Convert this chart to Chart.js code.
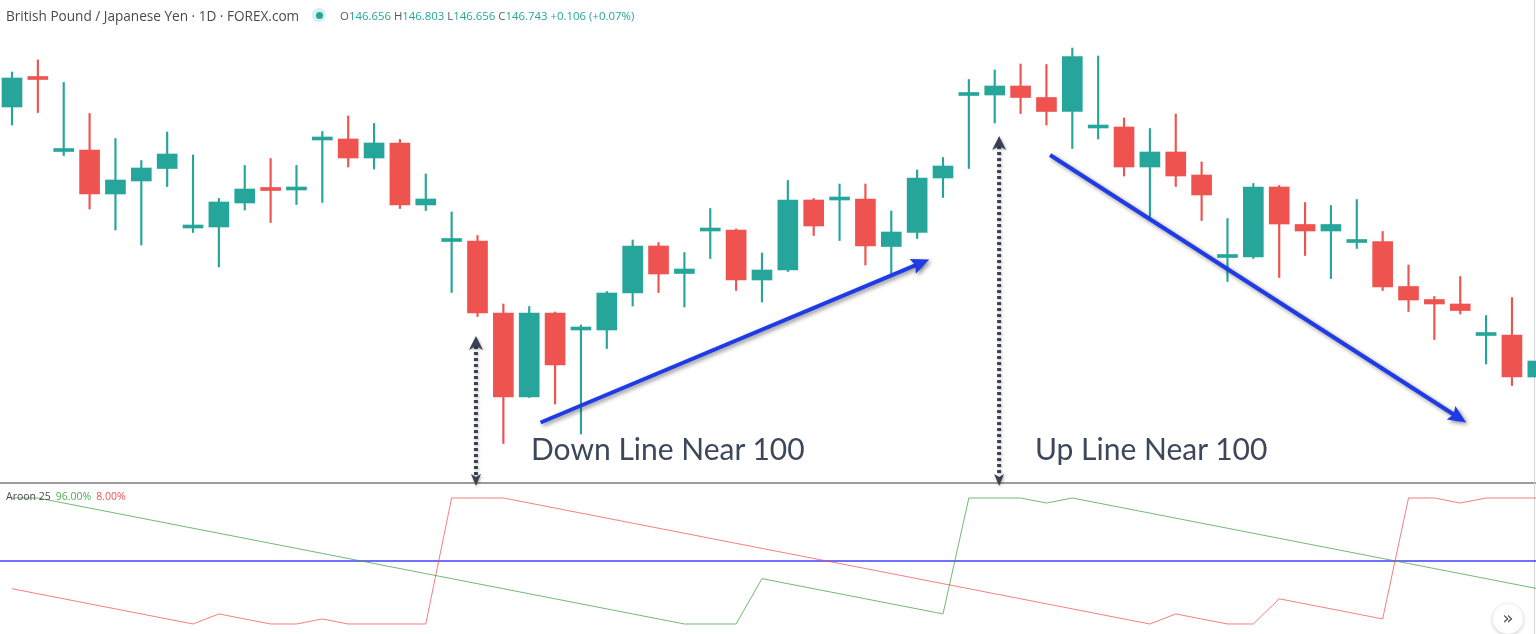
<!DOCTYPE html>
<html>
<head>
<meta charset="utf-8">
<script src="https://cdn.jsdelivr.net/npm/chart.js@4.4.0/dist/chart.umd.min.js"></script>
<style>
  body { margin: 0; background: #fff; }
  #wrap { position: relative; width: 1536px; height: 634px; overflow: hidden; background: #fff; }
  #sep { position: absolute; left: 0; top: 482px; width: 1536px; height: 2px; background: #9b9b9b; z-index: 1; }
  #edge { position: absolute; left: 1534px; top: 0; width: 1px; height: 634px; background: #d6d6d6; z-index: 1; }
  #aroon { position: absolute; left: 0; top: 484px; z-index: 2; }
  #main { position: absolute; left: 0; top: 0; z-index: 3; }
  .txt { position: absolute; z-index: 4; white-space: nowrap; }
  #title { left: 6px; top: 6px; font: 13.6px "Open Sans", sans-serif; color: #4a4a4a; }
  #dot { left: 312px; top: 8px; width: 14px; height: 14px; border-radius: 50%; background: rgba(38,166,154,0.18); }
  #dot::after { content: ""; position: absolute; left: 3.5px; top: 3.5px; width: 7px; height: 7px; border-radius: 50%; background: #26a69a; }
  #ohlc { left: 340px; top: 8px; font: 11.4px "Open Sans", sans-serif; color: #26a69a; }
  #ohlc b { font-weight: normal; color: #5a5a5a; }
  #aroonLegend { left: 6px; top: 489px; font: 10.5px "Open Sans", sans-serif; color: #4a4a4a; }
  #aroonLegend span { margin-left: 5px; }
  .note { font: 30px Lato, sans-serif; color: #3c4859; }
  #note1 { left: 531px; top: 430px; }
  #note2 { left: 1035px; top: 430px; }
  #more { left: 1493px; top: 604px; width: 30px; height: 30px; border-radius: 50%; background: #fff;
          box-shadow: 0 1px 4px rgba(0,0,0,0.22); font: 18px "DejaVu Sans", sans-serif; color: #555;
          text-align: center; line-height: 28px; }
</style>
</head>
<body>
<div id="wrap">
  <div id="sep"></div>
  <div id="edge"></div>
  <canvas id="aroon" width="1536" height="150"></canvas>
  <canvas id="main" width="1536" height="634"></canvas>
  <div class="txt" id="title">British Pound / Japanese Yen · 1D · FOREX.com</div>
  <div class="txt" id="dot"></div>
  <div class="txt" id="ohlc"><b>O</b>146.656 <b>H</b>146.803 <b>L</b>146.656 <b>C</b>146.743 +0.106 (+0.07%)</div>
  <div class="txt" id="aroonLegend">Aroon 25<span style="color:#4caf50">96.00%</span><span style="color:#ef5350">8.00%</span></div>
  <div class="txt note" id="note1">Down Line Near 100</div>
  <div class="txt note" id="note2">Up Line Near 100</div>
  <div class="txt" id="more">»</div>
</div>
<script>
// daily GBP/JPY candles, oldest first
const candleOpen  = [151.86,152.45,150.97,151.00,150.12,150.38,150.63,149.44,149.46,149.94,
                     150.22,150.20,151.20,151.22,150.84,151.14,149.90,149.17,149.18,147.74,
                     146.06,147.74,147.40,147.40,148.14,149.08,148.53,149.38,149.40,148.40,
                     148.60,150.00,150.00,150.02,149.07,149.35,150.44,152.09,152.10,152.28,
                     152.05,151.77,151.44,151.46,150.66,150.96,150.50,148.85,148.86,150.26,
                     149.51,149.38,149.15,149.17,148.27,148.01,147.92,147.29,147.30,146.46];
const candleHigh  = [152.56,152.80,152.35,151.73,151.23,150.79,151.36,150.90,150.03,150.69,
                     150.83,150.69,151.37,151.68,151.53,151.21,150.52,149.76,149.29,147.92,
                     147.87,147.76,147.50,148.17,149.20,149.15,148.95,149.83,149.42,148.94,
                     150.39,150.03,150.32,150.32,149.78,150.60,150.85,152.41,152.60,152.72,
                     152.71,153.04,152.88,151.64,151.43,151.72,150.76,149.63,150.33,150.29,
                     149.95,149.89,150.01,149.37,148.70,148.07,148.47,147.69,148.05,146.94];
const candleLow   = [151.50,151.75,150.89,149.82,149.40,149.10,150.27,149.35,148.66,149.80,
                     149.55,149.91,149.95,150.66,150.62,149.83,149.79,148.15,147.67,145.13,
                     146.05,145.92,145.32,147.03,147.88,148.15,147.86,148.83,148.19,147.96,
                     148.57,149.29,149.19,148.70,148.53,149.23,150.05,150.63,151.54,151.73,
                     151.50,151.03,151.22,150.48,149.64,150.27,149.59,148.37,148.83,148.45,
                     148.89,148.43,149.03,148.19,147.77,147.21,147.72,146.72,146.29,146.40];
const candleClose = [152.44,152.41,150.99,150.12,150.40,150.64,150.92,149.46,149.96,150.22,
                     150.19,150.23,151.22,150.84,151.14,149.90,150.02,149.19,147.74,146.06,
                     147.74,146.70,147.42,148.14,149.08,148.52,148.62,149.40,148.40,148.60,
                     150.00,149.48,150.02,149.08,149.36,150.44,150.68,152.11,152.28,152.05,
                     151.77,152.87,151.46,150.66,150.96,150.48,150.10,148.87,150.26,149.52,
                     149.38,149.51,149.17,148.26,148.00,147.92,147.79,147.31,146.46,146.78];

// Aroon (25) in percent, one value per candle
const aroonUp   = [100,100,96,92,88,84,80,76,72,68,64,60,56,52,48,44,40,36,32,28,
                   24,20,16,12,8,4,0,0,0,36,32,28,24,20,16,12,8,100,100,100,
                   96,100,96,92,88,84,80,76,72,68,64,60,56,52,48,44,40,36,32,28];
const aroonDown = [28,24,20,16,12,8,4,0,8,4,0,0,4,0,0,0,0,100,100,100,
                   96,92,88,84,80,76,72,68,64,60,56,52,48,44,40,36,32,28,24,20,
                   16,12,8,4,0,8,4,0,0,20,16,12,8,4,100,100,96,100,100,100];
const aroonMid = 50;

// annotations in data units: [candle index, price]
const trendArrows = [
  { from: [21.44, 145.55], to: [36.47, 148.81] },
  { from: [41.14, 150.90], to: [57.23, 145.55] }
];
const markerArrows = [
  { x: 18.94, top: 147.28, bottom: 144.28 },
  { x: 39.17, top: 151.28, bottom: 144.28 }
];

const upColor = '#26a69a';
const downColor = '#ef5350';
const idx = candleOpen.map((_, i) => i + 1);
const candleColors = idx.map((_, i) => candleClose[i] >= candleOpen[i] ? upColor : downColor);

const xRange = { min: 0.536, max: 59.93 };

function arrowHead(ctx, x, y, ang, len, half, notch) {
  ctx.beginPath();
  ctx.moveTo(x, y);
  ctx.lineTo(x - len * Math.cos(ang) + half * Math.sin(ang), y - len * Math.sin(ang) - half * Math.cos(ang));
  ctx.lineTo(x - (len - notch) * Math.cos(ang), y - (len - notch) * Math.sin(ang));
  ctx.lineTo(x - len * Math.cos(ang) - half * Math.sin(ang), y - len * Math.sin(ang) + half * Math.cos(ang));
  ctx.closePath();
  ctx.fill();
}

const annotations = {
  id: 'annotations',
  afterDatasetsDraw(chart) {
    const ctx = chart.ctx;
    const xs = chart.scales.x, ys = chart.scales.y;
    ctx.save();
    // trend arrows
    ctx.shadowColor = 'rgba(0,0,0,0.45)';
    ctx.shadowBlur = 4;
    ctx.shadowOffsetX = 2;
    ctx.shadowOffsetY = 2;
    ctx.strokeStyle = '#1e3be6';
    ctx.fillStyle = '#1e3be6';
    ctx.lineWidth = 4;
    trendArrows.forEach(a => {
      const x1 = xs.getPixelForValue(a.from[0]), y1 = ys.getPixelForValue(a.from[1]);
      const x2 = xs.getPixelForValue(a.to[0]), y2 = ys.getPixelForValue(a.to[1]);
      const ang = Math.atan2(y2 - y1, x2 - x1);
      ctx.beginPath();
      ctx.moveTo(x1, y1);
      ctx.lineTo(x2 - 12 * Math.cos(ang), y2 - 12 * Math.sin(ang));
      ctx.stroke();
      arrowHead(ctx, x2, y2, ang, 18, 8, 3);
    });
    // dotted marker arrows
    ctx.shadowColor = 'rgba(0,0,0,0.3)';
    ctx.shadowBlur = 3;
    ctx.shadowOffsetX = 1;
    ctx.shadowOffsetY = 1;
    ctx.strokeStyle = '#3a4252';
    ctx.fillStyle = '#3a4252';
    ctx.lineWidth = 4;
    ctx.setLineDash([3, 3]);
    markerArrows.forEach(m => {
      const x = xs.getPixelForValue(m.x);
      const yt = ys.getPixelForValue(m.top), yb = ys.getPixelForValue(m.bottom);
      ctx.beginPath();
      ctx.moveTo(x, yt + 10);
      ctx.lineTo(x, yb - 10);
      ctx.stroke();
      arrowHead(ctx, x, yt, -Math.PI / 2, 14, 7, 4);
      arrowHead(ctx, x, yb, Math.PI / 2, 12, 5, 3);
    });
    ctx.restore();
  }
};

new Chart(document.getElementById('main').getContext('2d'), {
  type: 'bar',
  data: {
    datasets: [
      {
        label: 'body',
        data: idx.map((x, i) => ({ x: x, y: [candleOpen[i], candleClose[i]] })),
        backgroundColor: candleColors,
        barThickness: 20,
        minBarLength: 3,
        grouped: false,
        borderWidth: 0
      },
      {
        label: 'wick',
        data: idx.map((x, i) => ({ x: x, y: [candleLow[i], candleHigh[i]] })),
        backgroundColor: candleColors,
        barThickness: 1.5,
        grouped: false,
        borderWidth: 0
      }
    ]
  },
  options: {
    responsive: false,
    animation: false,
    layout: { padding: { left: 0, right: 0, top: 0, bottom: 151 } },
    plugins: { legend: { display: false }, tooltip: { enabled: false } },
    scales: {
      x: { type: 'linear', min: xRange.min, max: xRange.max, offset: false, display: false },
      y: { min: 144.34, max: 154, display: false }
    }
  },
  plugins: [annotations]
});

const midLine = {
  id: 'midLine',
  beforeDatasetsDraw(chart) {
    const ctx = chart.ctx, area = chart.chartArea;
    const y = Math.round(chart.scales.y.getPixelForValue(aroonMid));
    ctx.save();
    ctx.strokeStyle = '#4040ff';
    ctx.lineWidth = 1.3;
    ctx.beginPath();
    ctx.moveTo(area.left, y);
    ctx.lineTo(area.right, y);
    ctx.stroke();
    ctx.restore();
  }
};

new Chart(document.getElementById('aroon').getContext('2d'), {
  type: 'line',
  data: {
    datasets: [
      {
        label: 'Aroon Up',
        data: idx.map((x, i) => ({ x: x, y: aroonUp[i] })),
        borderColor: 'rgba(67,160,71,0.75)',
        borderWidth: 1,
        pointRadius: 0,
        tension: 0
      },
      {
        label: 'Aroon Down',
        data: idx.map((x, i) => ({ x: x, y: aroonDown[i] })),
        borderColor: 'rgba(242,72,72,0.7)',
        borderWidth: 1,
        pointRadius: 0,
        tension: 0
      }
    ]
  },
  options: {
    responsive: false,
    animation: false,
    layout: { padding: 0 },
    plugins: { legend: { display: false }, tooltip: { enabled: false } },
    scales: {
      x: { type: 'linear', min: xRange.min, max: xRange.max, display: false },
      y: { min: -7.94, max: 111.1, display: false }
    }
  },
  plugins: [midLine]
});
</script>
</body>
</html>
